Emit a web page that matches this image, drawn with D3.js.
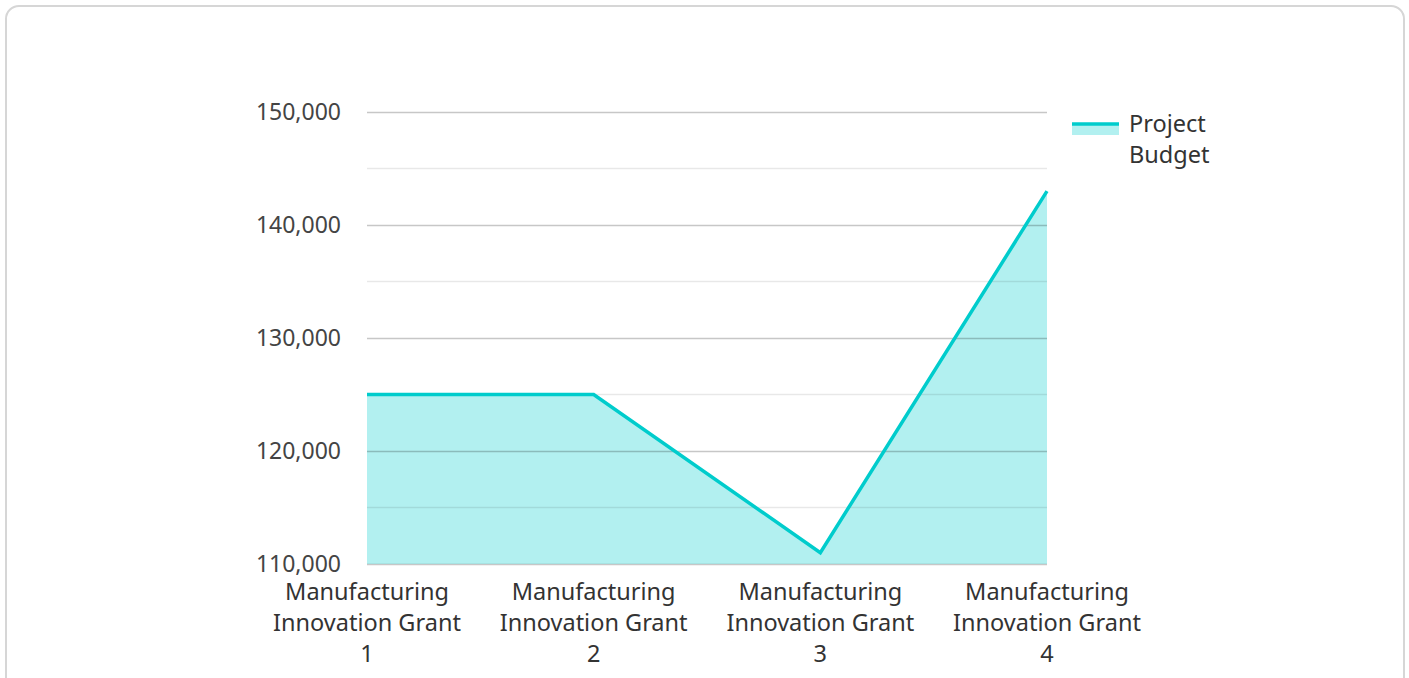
<!DOCTYPE html>
<html>
<head>
<meta charset="utf-8">
<script src="https://cdn.jsdelivr.net/npm/d3@7"></script>
<style>
  html, body { margin: 0; padding: 0; background: #fff; overflow: hidden; }
  #card {
    position: absolute; left: 5px; top: 5px;
    width: 1400px; height: 700px;
    border: 2px solid #d6d6d6; border-radius: 14px;
    box-sizing: border-box; background: #fff;
  }
  svg { position: absolute; left: 0; top: 0; font-family: "Noto Sans", "Open Sans", sans-serif; }
</style>
</head>
<body>
<div id="card"></div>
<svg id="chart"></svg>
<script>
const width = 1409;
const height = 678;

const categories = [
  "Manufacturing Innovation Grant 1",
  "Manufacturing Innovation Grant 2",
  "Manufacturing Innovation Grant 3",
  "Manufacturing Innovation Grant 4",
];
const budget = [125000, 125000, 111000, 143000];
const yTicks = [110000, 120000, 130000, 140000, 150000];
const yMinorTicks = [115000, 125000, 135000, 145000];
const seriesName = "Project Budget";
const color = "#00cccc";

const margin = { left: 367, right: 362, top: 112, bottom: 114 };

const svg = d3.select("#chart").attr("width", width).attr("height", height);

const x = d3
  .scalePoint()
  .domain(categories)
  .range([margin.left, width - margin.right]);
const y = d3
  .scaleLinear()
  .domain([110000, 150000])
  .range([height - margin.bottom, margin.top]);

// filled area
const area = d3
  .area()
  .x((d, i) => x(categories[i]))
  .y0(y(110000))
  .y1((d) => y(d));

svg
  .append("path")
  .datum(budget)
  .attr("d", area)
  .attr("fill", color)
  .attr("fill-opacity", 0.3);

// gridlines (drawn over the fill, under the line)
svg
  .append("g")
  .selectAll("line")
  .data(yMinorTicks)
  .join("line")
  .attr("x1", margin.left)
  .attr("x2", width - margin.right)
  .attr("y1", (d) => y(d))
  .attr("y2", (d) => y(d))
  .attr("stroke", "rgba(0,0,0,0.09)")
  .attr("stroke-width", 1.5);

const yAxis = svg
  .append("g")
  .attr("transform", `translate(${margin.left},0)`)
  .call(
    d3
      .axisLeft(y)
      .tickValues(yTicks)
      .tickSize(-(width - margin.left - margin.right))
      .tickPadding(26)
      .tickFormat(d3.format(","))
  );
yAxis.select(".domain").remove();
yAxis
  .selectAll(".tick line")
  .attr("stroke", "rgba(0,0,0,0.22)")
  .attr("stroke-width", 1.5);
yAxis
  .selectAll(".tick text")
  .attr("fill", "#444")
  .style("font-size", "23px")
  .style("font-family", "'Noto Sans', 'Open Sans', sans-serif");

// line
const line = d3
  .line()
  .x((d, i) => x(categories[i]))
  .y((d) => y(d));

svg
  .append("path")
  .datum(budget)
  .attr("d", line)
  .attr("fill", "none")
  .attr("stroke", color)
  .attr("stroke-width", 3.5)
  .attr("stroke-linejoin", "miter");

// x labels, wrapped in three lines
const xLabels = svg
  .append("g")
  .selectAll("text")
  .data(categories)
  .join("text")
  .attr("text-anchor", "middle")
  .attr("fill", "#333")
  .style("font-size", "23.5px");

xLabels.each(function (d) {
  const parts = d.match(/^(\S+) (.+) (\S+)$/);
  const lines = [parts[1], parts[2], parts[3]];
  d3.select(this)
    .selectAll("tspan")
    .data(lines)
    .join("tspan")
    .attr("x", x(d))
    .attr("y", (t, i) => height - margin.bottom + 36 + i * 31)
    .text((t) => t);
});

// legend
const legend = svg.append("g").attr("transform", "translate(1072,124)");
legend
  .append("rect")
  .attr("x", 0)
  .attr("y", 0)
  .attr("width", 47)
  .attr("height", 11)
  .attr("fill", color)
  .attr("fill-opacity", 0.3);
legend
  .append("line")
  .attr("x1", 0)
  .attr("x2", 47)
  .attr("y1", 0)
  .attr("y2", 0)
  .attr("stroke", color)
  .attr("stroke-width", 3.5);
legend
  .append("text")
  .attr("fill", "#333")
  .style("font-size", "23.5px")
  .selectAll("tspan")
  .data(seriesName.split(" "))
  .join("tspan")
  .attr("x", 57)
  .attr("y", (t, i) => 8 + i * 31)
  .text((t) => t);
</script>
</body>
</html>
